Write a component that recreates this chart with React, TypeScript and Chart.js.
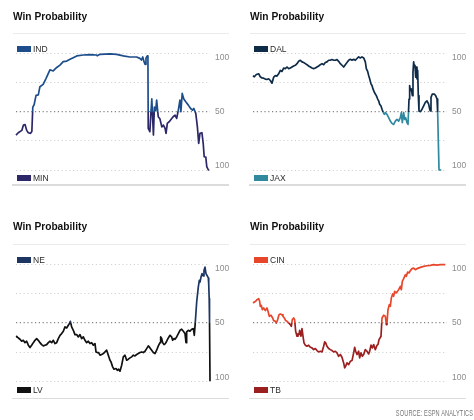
import React, { useEffect, useRef } from "react";
import { Chart, registerables } from "chart.js";

Chart.register(...registerables);

// ---- DATA: [game minute, win probability of the top team (%)] ----
const IND_VS_MIN: [number, number][] = [
  [0, 30], [0.7, 32], [1.8, 34], [2.3, 38.6], [2.8, 39], [3.3, 34], [3.8, 32], [4.5, 31.5], [4.9, 33],
  [5.2, 54], [5.6, 56], [6.2, 64], [6.9, 64.5], [7.4, 71.5], [8.4, 73.5], [9.3, 78.7], [10, 83], [10.5, 86],
  [11.5, 85], [12.6, 88], [13.6, 90], [14.6, 93], [15.7, 93.5], [16.7, 95], [17.7, 96.4], [18.8, 97.9],
  [20.8, 98.7], [22.9, 99], [24.9, 98.7], [25.1, 98], [26, 99.3], [29.1, 99.6], [31.1, 99.3], [33.2, 98],
  [35.2, 97], [37.3, 97], [38.3, 95.8], [38.8, 94.4], [39.2, 97], [39.6, 93], [39.9, 90.7], [40.2, 96],
  [40.6, 98], [40.8, 97], [40.9, 35.7], [41.4, 32.9], [41.7, 48], [42, 61], [42.5, 30], [42.8, 54],
  [43.2, 51], [43.5, 60], [44, 45.7], [44.5, 44], [45.1, 37], [45.6, 38.6], [46.1, 35.7], [46.4, 31.4],
  [46.8, 40], [47.4, 41.5], [48.1, 44], [48.6, 45.7], [49.2, 47], [49.7, 44.3], [50.2, 51.4], [50.7, 60],
  [51, 50], [51.4, 65.7], [51.9, 61], [52.5, 58.6], [53.3, 55.7], [54, 52.8], [54.6, 51.4], [55, 52.8],
  [55.6, 48.6], [56.1, 37], [56.5, 22.9], [56.9, 31.4], [57.5, 32], [57.9, 22.9], [58.2, 11.4], [58.7, 11],
  [59, 2.9], [59.5, 0], [59.8, 0],
];

const DAL_VS_JAX: [number, number][] = [
  [0, 81], [0.41, 80], [1.03, 82], [1.75, 82.6], [2.26, 80], [2.78, 79], [3.3, 78.8], [3.81, 78], [4.33, 77.7],
  [4.84, 78.3], [5.36, 76.8], [5.87, 74.5], [6.39, 79.7], [6.9, 81], [7.42, 80.6], [7.93, 82.6], [8.45, 85.5],
  [8.97, 84.6], [9.48, 87.5], [10.0, 87], [10.51, 88.4], [11.03, 87], [11.54, 87.5], [12.06, 88.4], [12.57, 89.3],
  [13.09, 89.9], [13.61, 91.3], [14.12, 93.3], [14.64, 94.2], [15.15, 92.8], [15.67, 92.2], [16.18, 91.3],
  [16.7, 90.4], [17.21, 89.3], [17.73, 88.4], [18.24, 87.5], [18.76, 87], [19.28, 87.5], [19.79, 88.4],
  [20.31, 89.3], [20.82, 90.4], [21.34, 91.3], [21.85, 90.4], [22.37, 92.2], [22.88, 92.8], [23.4, 94.2],
  [23.92, 94.2], [24.43, 94.8], [24.95, 94.2], [25.46, 94.2], [25.98, 94.8], [26.49, 93.3], [27.01, 91.3],
  [27.52, 89.9], [28.04, 88.4], [28.55, 90.4], [29.07, 92.2], [29.59, 94.2], [30.1, 95], [30.62, 94.2],
  [31.13, 95], [31.65, 94.2], [32.16, 95.7], [32.68, 97.1], [33.19, 96.2], [33.71, 97.1], [34.23, 96.2],
  [34.74, 92.8], [35.05, 87], [35.46, 84.6], [35.77, 81.2], [36.08, 78.3], [36.49, 73.9], [36.8, 72.5],
  [37.11, 69.6], [37.52, 66.7], [37.83, 65.2], [38.14, 63.8], [38.56, 60.9], [38.86, 59.4], [39.17, 56.5],
  [39.59, 55], [39.9, 52.2], [40.21, 49.9], [40.62, 47.8], [40.93, 49.3], [41.44, 47.8], [41.96, 44.9],
  [42.47, 42], [42.99, 40], [43.5, 39.1], [44.02, 42], [44.54, 43.5], [45.05, 42], [45.57, 44.9], [45.88, 49.3],
  [46.18, 40.6], [46.6, 49.3], [46.9, 43.5], [47.22, 44.9], [47.63, 40.6], [47.94, 39.1], [48.25, 60.9],
  [48.45, 72.5], [48.66, 68.1], [48.97, 69.6], [49.28, 63.8], [49.48, 84], [49.69, 92.8], [49.9, 88.4],
  [50.1, 89.9], [50.31, 79.7], [50.51, 88.4], [50.72, 78.3], [50.93, 85.5], [51.13, 63.8], [51.34, 50.7],
  [51.75, 49.9], [52.27, 52.2], [52.78, 55], [53.3, 58], [53.81, 59.4], [54.33, 56.5], [54.64, 52.2],
  [54.85, 50.7], [55.05, 62.3], [55.46, 65.2], [56.08, 65.2], [56.5, 63.8], [56.91, 60.9], [57.11, 49.3],
  [57.53, 0], [57.94, 0], [58.25, 0],
];

const NE_VS_LV: [number, number][] = [
  [0, 38], [0.2, 38.6], [0.72, 37.1], [1.23, 36], [1.75, 34.3], [2.26, 35.1], [2.78, 33.1], [3.3, 34.3],
  [3.81, 30.9], [4.33, 28.9], [4.84, 30.9], [5.36, 33.1], [5.87, 35.1], [6.39, 36.6], [6.9, 35.1], [7.42, 33.1],
  [7.93, 31.4], [8.45, 30.3], [8.97, 30.9], [9.48, 31.4], [10.0, 33.1], [10.51, 34.3], [11.03, 33.1],
  [11.54, 35.1], [12.06, 32.3], [12.57, 33.1], [13.09, 36.6], [13.61, 39.4], [14.12, 40.9], [14.64, 42.9],
  [15.15, 46.6], [15.67, 45.7], [16.18, 48], [16.49, 49.4], [16.8, 51.4], [17.21, 46.6], [17.73, 43.7],
  [18.24, 40], [18.76, 40], [19.28, 38], [19.79, 40], [20.31, 36.6], [20.82, 38], [21.34, 35.1], [21.85, 33.1],
  [22.37, 34.3], [22.88, 32.3], [23.4, 33.1], [23.92, 30.9], [24.43, 32.3], [24.74, 25.1], [25.15, 24.6],
  [25.56, 24.6], [25.98, 22.3], [26.49, 22.9], [27.01, 23.7], [27.52, 25.1], [28.04, 26.6], [28.55, 22.3],
  [29.07, 18], [29.38, 16.6], [29.89, 12.3], [30.31, 10.3], [30.93, 10.9], [31.34, 9.4], [31.75, 10.3],
  [32.16, 8.6], [32.68, 13.7], [33.19, 20.9], [33.71, 22.3], [34.23, 18], [34.74, 18.9], [35.26, 20],
  [35.77, 20.9], [36.29, 22.3], [36.8, 21.7], [37.32, 22.9], [37.83, 23.7], [38.35, 24.6], [38.86, 25.1],
  [39.38, 24.6], [39.9, 25.7], [40.41, 28], [40.93, 30.3], [41.44, 28.6], [41.96, 26.6], [42.47, 24.6],
  [42.99, 23.7], [43.5, 26.6], [44.02, 30.3], [44.54, 33.1], [44.74, 38], [45.05, 36.6], [45.36, 33.1],
  [45.77, 31.4], [46.18, 32.3], [46.6, 34.3], [47.11, 37.1], [47.63, 39.4], [48.14, 38], [48.45, 35.1],
  [48.87, 36.6], [49.18, 36], [49.69, 38], [50.21, 40.9], [50.72, 43.7], [51.24, 44.6], [51.75, 42.9],
  [52.27, 40.9], [52.58, 33.1], [52.78, 42.3], [53.3, 43.7], [53.81, 42.9], [54.33, 44.6], [54.85, 45.1],
  [55.15, 39.4], [55.46, 50.9], [55.88, 68], [56.39, 80.9], [56.7, 86.6], [56.91, 85.1], [57.22, 89.4],
  [57.53, 92.3], [57.94, 90.3], [58.14, 95.1], [58.45, 97.9], [58.76, 92.3], [59.18, 90.3], [59.48, 88.6],
  [59.6, 83.7], [59.75, 70.9], [59.85, 52.3], [60, 0],
];

const CIN_VS_TB: [number, number][] = [
  [0, 67.1], [0.41, 68], [0.82, 68.6], [1.23, 70], [1.75, 70.9], [2.06, 68.6], [2.26, 64.3], [2.57, 65.1],
  [2.88, 61.4], [3.3, 62.9], [3.81, 60.6], [4.33, 62.9], [4.64, 60], [5.05, 55.7], [5.56, 56.6], [6.08, 54.3],
  [6.39, 52], [6.9, 51.4], [7.21, 50], [7.63, 52.9], [8.04, 57.1], [8.45, 57.7], [8.97, 57.1], [9.27, 55.7],
  [9.69, 54.3], [10.1, 52], [10.51, 51.4], [11.03, 50], [11.54, 48.6], [11.85, 47.1], [12.16, 52.9],
  [12.57, 54.3], [12.88, 52.9], [13.19, 42.9], [13.61, 38.6], [13.91, 40.6], [14.22, 40], [14.43, 43.7],
  [14.84, 38.6], [15.15, 45.1], [15.46, 38.6], [15.77, 32.9], [16.18, 30.9], [16.7, 30], [17.21, 30.9],
  [17.73, 29.1], [18.24, 28.6], [18.76, 27.1], [19.28, 28], [19.79, 26.3], [20.31, 25.1], [20.82, 25.7],
  [21.34, 25.1], [21.85, 30], [22.16, 33.7], [22.47, 32.9], [22.88, 30], [23.4, 28], [23.92, 27.1],
  [24.43, 26.3], [24.95, 25.1], [25.46, 25.7], [25.98, 24.3], [26.49, 21.4], [27.01, 22.9], [27.52, 20.6],
  [28.04, 15.7], [28.35, 11.4], [28.66, 12.9], [29.07, 15.7], [29.59, 14.3], [30.1, 17.1], [30.62, 17.7],
  [31.13, 24.3], [31.44, 29.1], [31.75, 25.7], [32.16, 22.9], [32.68, 25.7], [32.99, 20], [33.4, 24.3],
  [33.81, 21.4], [34.23, 22.9], [34.74, 27.1], [35.26, 25.7], [35.77, 23.4], [36.08, 25.7], [36.49, 30.9],
  [36.91, 28.6], [37.32, 31.4], [37.83, 27.1], [38.35, 30.9], [38.66, 31.4], [38.97, 35.7], [39.28, 37.1],
  [39.59, 38.6], [39.9, 54.3], [40.41, 56.6], [40.93, 55.7], [41.24, 48.6], [41.44, 50], [41.75, 61.4],
  [42.16, 65.7], [42.47, 64.3], [42.78, 71.4], [43.19, 74.9], [43.5, 72.9], [43.81, 77.1], [44.23, 75.7],
  [44.54, 76.6], [45.05, 78.6], [45.57, 81.4], [45.88, 78.6], [46.18, 85.7], [46.6, 88], [47.11, 91.4],
  [47.42, 90], [47.83, 93.7], [48.25, 92.9], [48.66, 94.9], [49.18, 96.6], [49.69, 97.1], [50.21, 95.7],
  [50.72, 96.6], [51.75, 97.7], [52.78, 98.6], [53.81, 99.1], [54.85, 99.4], [55.88, 100], [56.91, 99.7],
  [57.94, 100], [58.97, 100], [59.48, 100],
];

const TOP_TEAMS = ["IND", "DAL", "NE", "CIN"];
const BOTTOM_TEAMS = ["MIN", "JAX", "LV", "TB"];
const TOP_COLORS = ["#1d4d8b", "#0e2b48", "#1c3563", "#e8462b"];
const BOTTOM_COLORS = ["#2b2768", "#3189a0", "#111111", "#9c1f1f"];
const GAMES = [IND_VS_MIN, DAL_VS_JAX, NE_VS_LV, CIN_VS_TB];

const Y_TICK_VALUES = [0, 25, 50, 75, 100];
const Y_TICK_LABELS: Record<number, string> = { 0: "100", 50: "50", 100: "100" };
const TITLE = "Win Probability";
const SOURCE = "SOURCE: ESPN ANALYTICS";

const FONT = '"Liberation Sans", Arial, sans-serif';

// ---- LAYOUT (panel-relative) ----
const ROWS = [
  { title: 16.7, sepTop: 33, legTop: 49.3, legBot: 177.5, sepBot: 184, top: 53.5, bottom: 170 },
  { title: 16.7, sepTop: 33.5, legTop: 50, legBot: 180, sepBot: 187.5, top: 54.7, bottom: 171.2 },
];
const PW = 237;
const PH = 210;

function Panel({ idx }: { idx: number }) {
  const ref = useRef<HTMLCanvasElement | null>(null);
  const row = ROWS[Math.floor(idx / 2)];
  const topC = TOP_COLORS[idx];
  const botC = BOTTOM_COLORS[idx];

  useEffect(() => {
    if (!ref.current) return;
    const game = GAMES[idx];
    const chart = new Chart(ref.current, {
      type: "line",
      data: {
        datasets: [
          {
            data: game.map(([t, p]) => ({ x: t, y: p })),
            borderColor: (ctx: any) => {
              const ch = ctx.chart;
              const area = ch.chartArea;
              if (!area || !ch.scales.y) return topC;
              const y50 = ch.scales.y.getPixelForValue(50);
              const g = ch.ctx.createLinearGradient(0, area.top - 2, 0, area.bottom + 2);
              const s = (y50 - (area.top - 2)) / (area.bottom - area.top + 4);
              g.addColorStop(0, topC);
              g.addColorStop(s, topC);
              g.addColorStop(s, botC);
              g.addColorStop(1, botC);
              return g;
            },
            borderWidth: 1.7,
            pointRadius: 0,
            tension: 0,
            fill: false,
            borderJoinStyle: "round",
            clip: 3,
          } as any,
        ],
      },
      options: {
        animation: false,
        responsive: false,
        maintainAspectRatio: false,
        events: [],
        layout: { padding: { left: 16, right: 0, top: row.top, bottom: PH - row.bottom } },
        plugins: { legend: { display: false }, tooltip: { enabled: false }, title: { display: false } },
        scales: {
          x: { type: "linear", min: 0, max: 60, display: false },
          y: {
            position: "right",
            min: 0,
            max: 100,
            afterBuildTicks: (s: any) => {
              s.ticks = Y_TICK_VALUES.map((v) => ({ value: v }));
            },
            afterFit: (s: any) => {
              s.width = 27;
            },
            grid: {
              drawTicks: false,
              color: (c: any) => (c.tick && c.tick.value === 50 ? "#858585" : "#d2d2d2"),
              lineWidth: (c: any) => (c.tick && c.tick.value === 50 ? 1.3 : 1),
            },
            border: { display: false, dash: [1.2, 2.6] },
            ticks: {
              padding: 5,
              color: "#8c8c8c",
              autoSkip: false,
              font: { family: FONT, size: 8.5, lineHeight: 0.95 },
              callback: (v: any) => {
                const lbl = Y_TICK_LABELS[v as number];
                if (lbl === undefined) return "";
                if (v === 100) return ["", lbl];
                if (v === 0) return [lbl, ""];
                return lbl;
              },
            },
          },
        },
      } as any,
    });
    return () => chart.destroy();
  }, [idx]);

  const left = (idx % 2) * PW;
  const top = Math.floor(idx / 2) * PH;

  const legendText: React.CSSProperties = {
    position: "absolute",
    left: 33,
    fontFamily: FONT,
    fontSize: 8.5,
    lineHeight: "10px",
    color: "#2a2a2a",
    whiteSpace: "nowrap",
  };

  return (
    <div style={{ position: "absolute", left, top, width: PW, height: PH }}>
      <canvas ref={ref} width={PW} height={PH} style={{ position: "absolute", left: 0, top: 0, width: PW, height: PH }} />
      <div
        style={{
          position: "absolute",
          left: 13,
          top: row.title - 6,
          fontFamily: FONT,
          fontWeight: 700,
          fontSize: 10.2,
          lineHeight: "12px",
          color: "#111",
          whiteSpace: "nowrap",
        }}
      >
        {TITLE}
      </div>
      <div style={{ position: "absolute", left: 13, top: row.sepTop, width: 216, height: 1, background: "#ebebeb" }} />
      <div style={{ position: "absolute", left: 12, top: row.sepBot, width: 217, height: 1.5, background: "#dcdcdc" }} />
      <div style={{ position: "absolute", left: 17, top: row.legTop - 3, width: 14, height: 6, background: topC }} />
      <div style={{ ...legendText, top: row.legTop - 5 }}>{TOP_TEAMS[idx]}</div>
      <div style={{ position: "absolute", left: 17, top: row.legBot - 3, width: 14, height: 6, background: botC }} />
      <div style={{ ...legendText, top: row.legBot - 5 }}>{BOTTOM_TEAMS[idx]}</div>
    </div>
  );
}

export default function App() {
  return (
    <div style={{ position: "absolute", left: 0, top: 0, width: 474, height: 420, background: "#fff", overflow: "hidden" }}>
      {[0, 1, 2, 3].map((i) => (
        <Panel key={i} idx={i} />
      ))}
      <div
        style={{
          position: "absolute",
          right: 1,
          top: 408,
          fontFamily: FONT,
          fontSize: 8.5,
          lineHeight: "10px",
          color: "#777",
          whiteSpace: "nowrap",
          transform: "scaleX(0.66)",
          transformOrigin: "right center",
          letterSpacing: 0.2,
        }}
      >
        {SOURCE}
      </div>
    </div>
  );
}
